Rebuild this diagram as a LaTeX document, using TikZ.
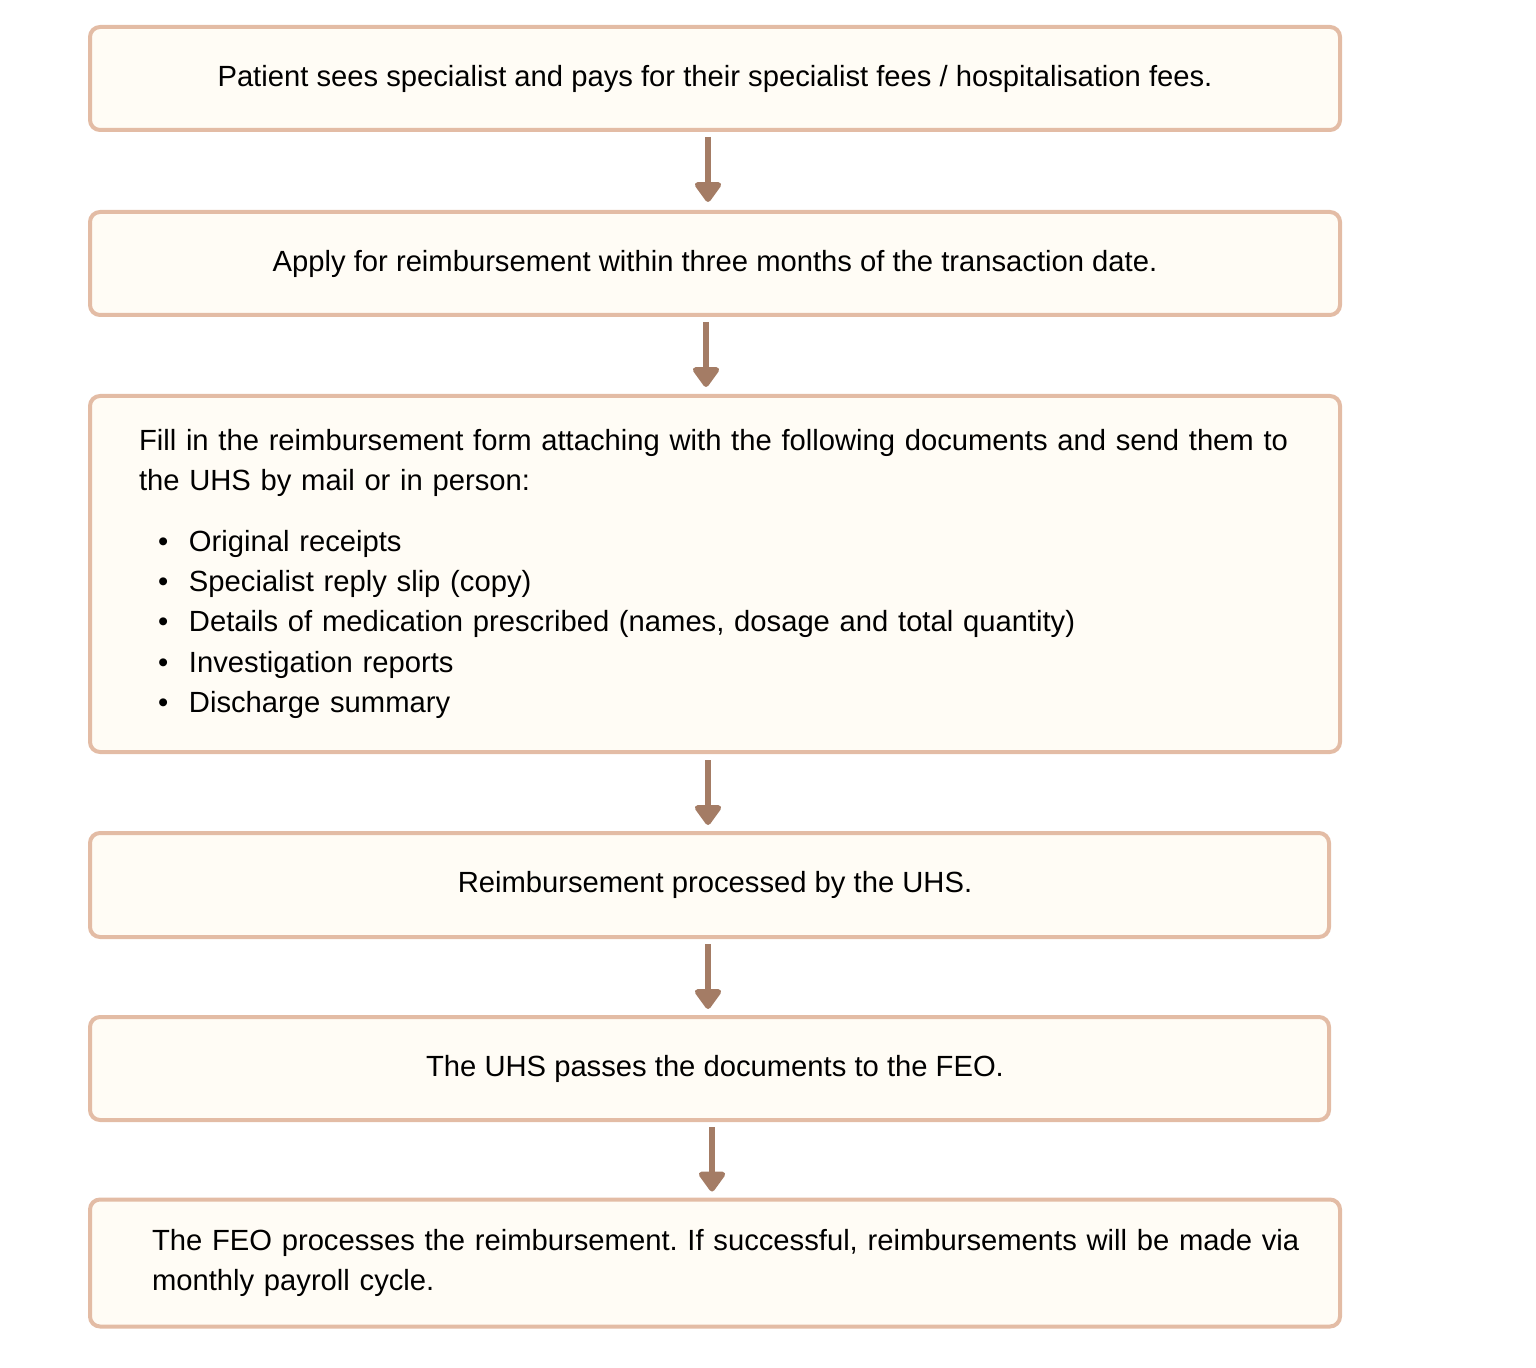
\documentclass[tikz,border=0pt]{standalone}
\usepackage{fontspec}
\setmainfont{Liberation Sans}
\usetikzlibrary{arrows.meta}
\definecolor{boxfill}{HTML}{FFFCF5}
\definecolor{boxline}{HTML}{E3BCA5}
\definecolor{arrowcol}{HTML}{A47C65}
\setlength{\parindent}{0pt}
\frenchspacing
\newcommand{\bulletline}[1]{\hspace*{9.5pt}\makebox[15.5pt][l]{\textbullet}#1\par}
\tikzset{
  stepbox/.style={draw=boxline, line width=2pt, fill=boxfill, rounded corners=5pt,
    minimum width=625pt, inner sep=0pt, align=center,
    font=\fontsize{14.6pt}{20.2pt}\selectfont},
  flow/.style={draw=arrowcol, line width=3pt,
    -{Triangle[width=15pt,length=11pt,round]}, arrowcol}
}
\begin{document}
\begin{tikzpicture}[x=0.5pt,y=-0.5pt]
    \useasboundingbox (0,0) rectangle (1536,1368);
    % steps of the reimbursement
    \node[stepbox, minimum height=51.5pt] (s1) at (715,78.5)
      {Patient sees specialist and pays for their specialist fees / hospitalisation fees.};
    \node[stepbox, minimum height=51.5pt] (s2) at (715,263.5)
      {Apply for reimbursement within three months of the transaction date.};
    \node[stepbox, minimum height=178pt, text width=576pt, inner xsep=24.5pt, align=left] (s3) at (715,574)
      {Fill in the reimbursement form attaching with the following documents and send them to the UHS by mail or in person:\par
       \vspace{10pt}
       \bulletline{Original receipts}
       \bulletline{Specialist reply slip (copy)}
       \bulletline{Details of medication prescribed (names, dosage and total quantity)}
       \bulletline{Investigation reports}
       \bulletline{Discharge summary}};
    \node[stepbox, minimum width=619.5pt, minimum height=52pt] (s4) at (709.5,885)
      {\hspace*{5.5pt}Reimbursement processed by the UHS.};
    \node[stepbox, minimum width=619.5pt, minimum height=51.5pt] (s5) at (709.5,1068.5)
      {\hspace*{5.5pt}The UHS passes the documents to the FEO.};
    \node[stepbox, minimum height=63.5pt, text width=600pt, inner xsep=12.5pt, align=left] (s6) at (715,1263)
      {{\leftskip=18.5pt The FEO processes the reimbursement. If successful, reimbursements will be made via monthly payroll cycle.\par}};
    % arrows
    \draw[flow] ([xshift=-3.5pt,yshift=-2.5pt]s1.south) -- ([xshift=-3.5pt,yshift=4pt]s2.north);
    \draw[flow] ([xshift=-4.5pt,yshift=-2.5pt]s2.south) -- ([xshift=-4.5pt,yshift=3.5pt]s3.north);
    \draw[flow] ([xshift=-3.5pt,yshift=-3pt]s3.south) -- ([xshift=-0.75pt,yshift=3pt]s4.north);
    \draw[flow] ([xshift=-0.75pt,yshift=-2.5pt]s4.south) -- ([xshift=-0.75pt,yshift=3pt]s5.north);
    \draw[flow] ([xshift=1.25pt,yshift=-2.5pt]s5.south) -- ([xshift=-1.5pt,yshift=3pt]s6.north);
\end{tikzpicture}
\end{document}
